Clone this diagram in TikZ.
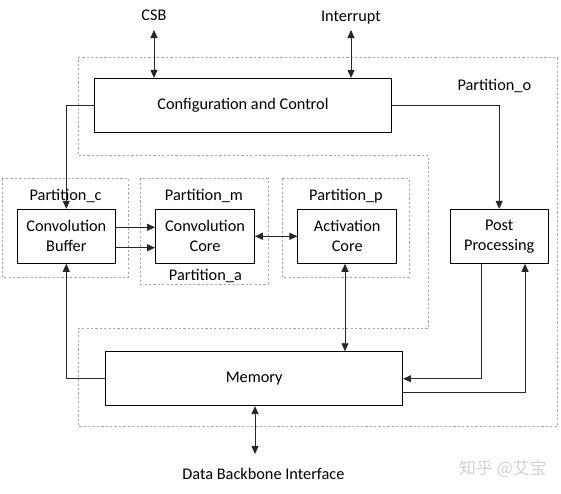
\documentclass[tikz,border=0pt]{standalone}
\usepackage{fontspec}
\setmainfont{Carlito}
\newfontfamily\cjk{Noto Sans CJK SC}
\usetikzlibrary{arrows.meta}
\begin{document}
\begin{tikzpicture}[x=1pt,y=-1pt,
  txt/.style={font=\fontsize{16.3}{20}\selectfont, inner sep=0pt, anchor=base},
  blk/.style={draw=black, line width=0.9pt, fill=white, align=center, font=\fontsize{16.3}{20}\selectfont, inner sep=0pt},
  part/.style={draw=gray!70, line width=0.6pt, dash pattern=on 2.2pt off 2.2pt},
  wire/.style={draw=black!85, line width=0.9pt},
  arr/.style={wire, -{Triangle[length=8pt,width=7pt]}},
  both/.style={wire, {Triangle[length=8pt,width=7pt]}-{Triangle[length=8pt,width=7pt]}}
]
\useasboundingbox (0,0) rectangle (561,493);
% partitions
\draw[part] (78,57.3) -- (557.5,57.3) -- (557.5,426.2) -- (78,426.2) -- (78,328.3) -- (428.5,328.3) -- (428.5,155.5) -- (78,155.5) -- cycle;
\draw[part] (2,178.3) rectangle (128.3,277.3);
\draw[part] (140.6,178.3) rectangle (268,284.3);
\draw[part] (282,178.3) rectangle (408.8,277.3);
% blocks
\node[blk, minimum width=297.5pt, minimum height=53.7pt] (cfg) at (243,105.2) {Configuration and Control};
\node[blk, minimum width=98.2pt, minimum height=54pt] (buf) at (66.3,236.3) {Convolution\\Buffer};
\node[blk, minimum width=99pt, minimum height=54pt] (core) at (205,236.3) {Convolution\\Core};
\node[blk, minimum width=98.6pt, minimum height=54pt] (act) at (347.2,236.3) {Activation\\Core};
\node[blk, minimum width=98.4pt, minimum height=54pt] (post) at (499.2,236.3) {Post\\Processing};
\node[blk, minimum width=297pt, minimum height=54pt] (mem) at (254.2,378.7) {Memory};
% labels
\node[txt] (csb) at (154,20.7) {CSB};
\node[txt] (intr) at (351,21) {Interrupt};
\node[txt] (po) at (494.3,90.9) {Partition\_o};
\node[txt] (pc) at (65.6,200.7) {Partition\_c};
\node[txt] (pm) at (204,200.7) {Partition\_m};
\node[txt] (pa) at (205.4,280.7) {Partition\_a};
\node[txt] (pp) at (346,200.7) {Partition\_p};
\node[txt] (dbi) at (263.4,479) {Data Backbone Interface};
\node[font=\cjk\fontsize{17}{19}\selectfont, text=gray!35, inner sep=0pt] (wm) at (503,469) {知乎 @艾宝};
\coordinate (csbend) at (154,30);
\coordinate (intend) at (351,30);
\coordinate (dbiend) at (255,454);
% connectors
\draw[both] (csbend) -- (csbend |- cfg.north);
\draw[both] (intend) -- (intend |- cfg.north);
\draw[arr] (cfg.west) -| (buf.north);
\draw[arr] (cfg.east) -| (post.north);
\draw[arr] ([yshift=9pt]buf.east) -- ([yshift=9pt]core.west);
\draw[arr] ([yshift=-11.4pt]buf.east) -- ([yshift=-11.4pt]core.west);
\draw[both] (core.east) -- (act.west);
\draw[arr] (mem.west) -| (buf.south);
\draw[both] ([xshift=-2.2pt]act.south) -- ([xshift=-2.2pt]act.south |- mem.north);
\draw[arr] ([xshift=-18.2pt]post.south) |- (mem.east);
\draw[arr] ([yshift=-13.8pt]mem.east) -| ([xshift=25.8pt]post.south);
\draw[both] (dbiend |- mem.south) -- (dbiend);
\end{tikzpicture}
\end{document}
